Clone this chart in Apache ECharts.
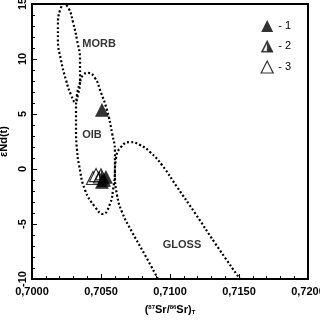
<!DOCTYPE html>
<html><head><meta charset="utf-8">
<script src="https://cdn.jsdelivr.net/npm/echarts@6/dist/echarts.min.js"></script>
<style>html,body{margin:0;padding:0;background:#fff}#c{width:320px;height:320px}</style>
</head><body><div id="c"></div>
<script>
// Axis ticks
var xTicks = [0.7000, 0.7050, 0.7100, 0.7150, 0.7200];
var yTicks = [-10, -5, 0, 5, 10, 15];
// Field outlines
var morbField = [[0.70232,15.09],[0.70203,14.45],[0.70188,13.09],[0.70188,11.73],[0.70210,9.91],[0.70246,8.09],[0.70283,6.73],[0.70312,6.09],[0.70333,6.73],[0.70348,8.09],[0.70348,9.91],[0.70326,11.73],[0.70297,13.36],[0.70268,14.55],[0.70232,15.09]];
var oibField = [[0.70348,7.91],[0.70326,6.73],[0.70319,5.36],[0.70319,3.55],[0.70326,1.73],[0.70341,0.36],[0.70384,-1.91],[0.70457,-3.45],[0.70514,-4.09],[0.70565,-3.18],[0.70587,-1.91],[0.70601,-0.09],[0.70601,1.55],[0.70580,3.27],[0.70543,5.36],[0.70493,7.18],[0.70457,8.27],[0.70406,8.73],[0.70370,8.55],[0.70348,7.91]];
var glossField = [[0.70913,-10.0],[0.70819,-7.82],[0.70725,-5.73],[0.70652,-3.91],[0.70616,-2.36],[0.70601,-0.55],[0.70609,1.0],[0.70645,2.0],[0.70710,2.45],[0.70783,2.18],[0.70855,1.55],[0.70942,0.36],[0.71051,-1.64],[0.71181,-4.0],[0.71326,-6.73],[0.71507,-10.0]];
// Samples
var group1 = [[0.70507,5.36],[0.70522,-1.0],[0.70536,-0.73],[0.70507,-1.18]];
var group2 = [[0.70486,-0.73],[0.70500,-0.45]];
var group3 = [[0.70442,-0.82],[0.70464,-0.55]];
// Field labels
var fieldNames = ['MORB','OIB','GLOSS'];
var fieldLabelPos = [[0.70486,11.36],[0.70435,3.09],[0.71087,-6.9]];

var FONT = '"Liberation Sans", Arial, sans-serif';
var halfTri = 'path://M10,0L20,20L0,20Z M10,4.2L2.9,18.3L10,18.3Z';

function fieldSeries(data){
  return {type:'line', data:data, smooth:0.5, showSymbol:false, symbol:'none', silent:true,
    lineStyle:{color:'#000', width:2.2, type:[2,2.2], cap:'butt'}, z:2};
}
var chart = echarts.init(document.getElementById('c'), null, {renderer:'canvas'});
chart.setOption({
  animation:false,
  backgroundColor:'#fff',
  grid:{left:32, right:12, top:4, bottom:41, show:true, borderColor:'#000', borderWidth:2,
    containLabel:false, outerBoundsMode:'none'},
  legend:{orient:'vertical', right:24, top:15, itemWidth:12, itemHeight:12, itemGap:8,
    formatter:function(n){return '- '+n;},
    textStyle:{fontFamily:FONT, fontSize:11, color:'#000'},
    data:[{name:'1', icon:'triangle', itemStyle:{color:'#000', borderWidth:0}},
          {name:'2', icon:halfTri, itemStyle:{color:'#000', borderColor:'#000', borderWidth:0.4}},
          {name:'3', icon:'triangle', itemStyle:{color:'#fff', borderColor:'#000', borderWidth:1.2}}]},
  xAxis:{type:'value', min:0.7, max:0.72, interval:0.005,
    axisLine:{onZero:false, lineStyle:{color:'#000', width:2}},
    axisTick:{inside:true, length:5, lineStyle:{color:'#000', width:1}},
    minorTick:{show:true, splitNumber:5, length:3, lineStyle:{color:'#000', width:1}},
    splitLine:{show:false},
    axisLabel:{margin:7, fontFamily:FONT, fontWeight:'bold', fontSize:11, color:'#000',
      formatter:function(v){return v.toFixed(4).replace('.',',');}},
    name:'({sup|87}Sr/{sup|86}Sr){sub|T}', nameLocation:'middle', nameGap:25,
    nameTextStyle:{fontFamily:FONT, fontWeight:'bold', fontSize:11, color:'#000',
      rich:{sup:{fontSize:6, fontWeight:'bold', verticalAlign:'top', padding:[0,0,5,0], fontFamily:FONT},
            sub:{fontSize:6, fontWeight:'bold', verticalAlign:'bottom', padding:[5,0,0,0], fontFamily:FONT}}}
  },
  yAxis:{type:'value', min:-10, max:15, interval:5,
    axisLine:{onZero:false, lineStyle:{color:'#000', width:2}},
    axisTick:{inside:true, length:5, lineStyle:{color:'#000', width:1}},
    minorTick:{show:true, splitNumber:5, length:3, lineStyle:{color:'#000', width:1}},
    splitLine:{show:false},
    axisLabel:{rotate:90, margin:4, fontFamily:FONT, fontWeight:'bold', fontSize:11, color:'#000'},
    name:'εNd(t)', nameLocation:'middle', nameGap:18, nameRotate:90,
    nameTextStyle:{fontFamily:FONT, fontWeight:'bold', fontSize:11, color:'#000'}
  },
  series:[
    fieldSeries(morbField), fieldSeries(oibField), fieldSeries(glossField),
    {type:'scatter', silent:true, symbolSize:0, z:3,
      data:fieldLabelPos.map(function(p,i){return {value:p, name:fieldNames[i]};}),
      label:{show:true, position:'inside', formatter:'{b}', fontFamily:FONT, fontWeight:'bold', fontSize:11, color:'#000'}},
    {name:'3', type:'scatter', data:group3, symbol:'triangle', symbolSize:[13,13], z:5,
      itemStyle:{color:'#fff', borderColor:'#000', borderWidth:1.2}},
    {name:'2', type:'scatter', data:group2, symbol:halfTri, symbolSize:[13,13], z:6,
      itemStyle:{color:'#000'}},
    {name:'1', type:'scatter', data:group1, symbol:'triangle', symbolSize:[13,13], z:7,
      itemStyle:{color:'#000', borderColor:'#000', borderWidth:0.5}}
  ]
});
</script></body></html>
